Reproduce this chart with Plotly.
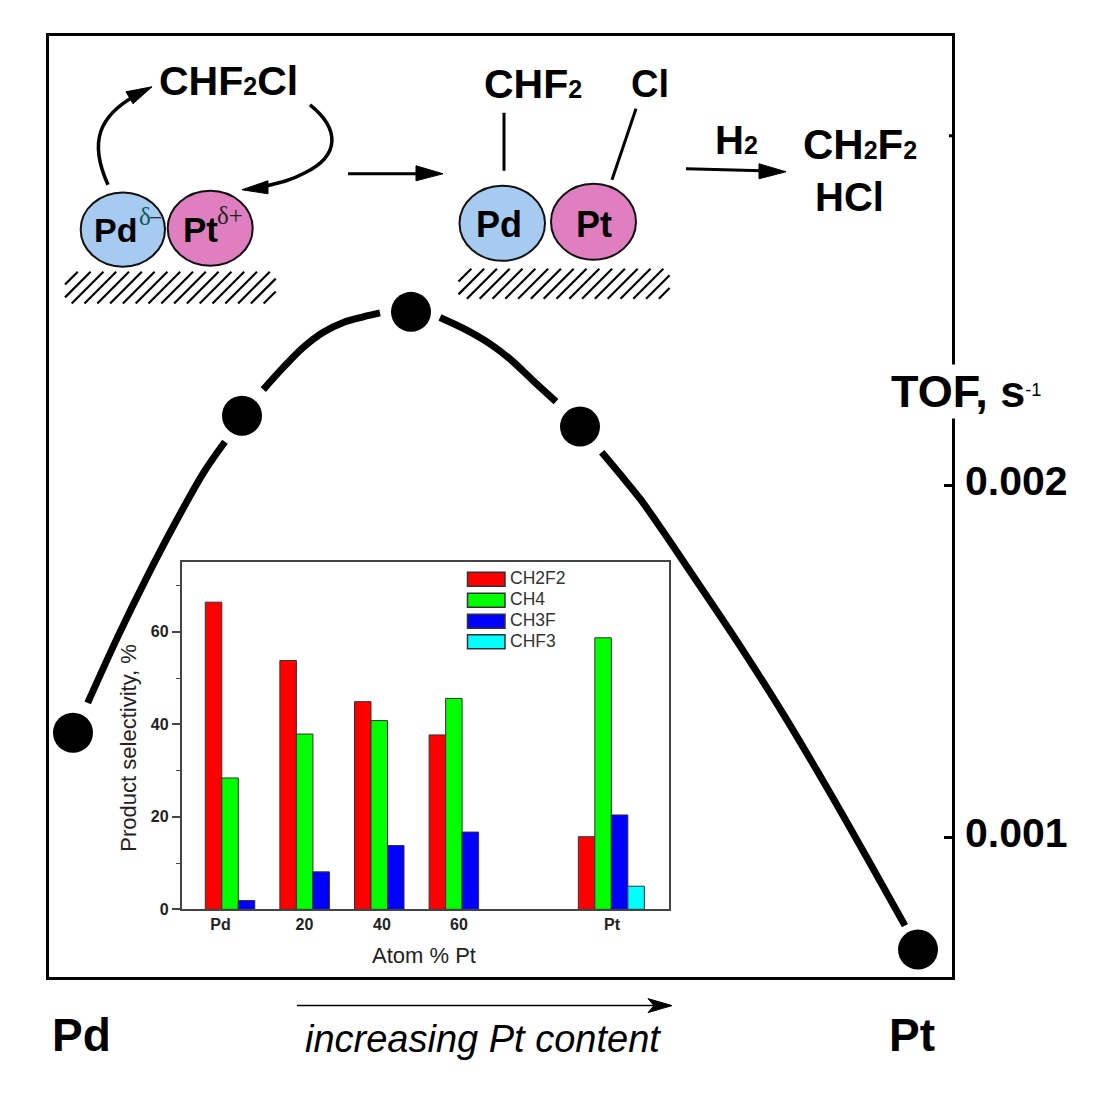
import plotly.graph_objects as go

# main curve: TOF against atom % Pt
atom_pct = [0, 20, 40, 60, 100]
tof_points = [0.001298, 0.002199, 0.002494, 0.002168, 0.000682]

seg1_x = [1.74, 5.36, 8.72, 11.87, 15.42, 17.99]
seg1_y = [1.383, 1.574, 1.739, 1.884, 2.036, 2.125]
seg2_x = [22.52, 24.89, 27.25, 29.62, 31.99, 34.36, 36.33]
seg2_y = [2.273, 2.336, 2.393, 2.436, 2.464, 2.480, 2.491]
seg3_x = [43.43, 46.59, 49.35, 51.72, 54.47, 57.16]
seg3_y = [2.478, 2.442, 2.403, 2.360, 2.298, 2.239]
seg4_x = [62.57, 64.73, 67.10, 69.86, 72.82, 78.93, 84.06, 89.20, 93.93, 98.46]
seg4_y = [2.095, 2.033, 1.963, 1.869, 1.764, 1.545, 1.351, 1.143, 0.944, 0.750]

tof_ticks = [0.001, 0.002]
tof_labels = ['0.001', '0.002']

# inset bars
inset_slots = [0, 1, 2, 3, 5]
inset_labels = ['Pd', '20', '40', '60', 'Pt']
ch2f2 = [66.4, 53.8, 44.9, 37.7, 15.7]
ch4 = [28.4, 37.9, 40.8, 45.6, 58.7]
ch3f = [1.9, 8.1, 13.8, 16.7, 20.4]
chf3 = [None, None, None, None, 5.0]
inset_names = ['CH2F2', 'CH4', 'CH3F', 'CHF3']
inset_colors = ['#FF0000', '#00FF00', '#0000FF', '#00FFFF']

FONT = 'Liberation Sans'
OFFSET = 8  # page body margin
W = 1087
H = 1072
# measured from the rendered page: paper height comes out a bit shorter than H
PLOT_TOP = 7.2
PLOT_H = 1063.2


def px(x):
    return (x - OFFSET) / W


def py(y):
    return 1 - (y - PLOT_TOP) / PLOT_H


def pt(x, y):
    return '{:.5f},{:.5f}'.format(px(x), py(y))


def path_shape(path, width=3, fill=None, color='black'):
    return dict(type='path', xref='paper', yref='paper', path=path,
                line=dict(color=color, width=width), fillcolor=fill)


def triangle(a, b, c):
    return path_shape('M{} L{} L{} Z'.format(pt(*a), pt(*b), pt(*c)), width=1, fill='black')


def straight(x0, y0, x1, y1, width=3):
    return path_shape('M{} L{}'.format(pt(x0, y0), pt(x1, y1)), width=width)


def ellipse(x0, y0, x1, y1, fill):
    return dict(type='circle', xref='paper', yref='paper', x0=px(x0), x1=px(x1), y0=py(y0), y1=py(y1),
                line=dict(color='#111111', width=2), fillcolor=fill)


def hatch(x0, y0, x1, y1, step=12.8):
    h = y1 - y0
    parts = []
    xb = x0 - h
    while xb < x1:
        # clip the 45 degree stroke to the box
        sx, sy = xb, y1
        ex, ey = xb + h, y0
        if sx < x0:
            sy -= x0 - sx
            sx = x0
        if ex > x1:
            ey += ex - x1
            ex = x1
        parts.append('M{} L{}'.format(pt(sx, sy), pt(ex, ey)))
        xb += step
    return path_shape(' '.join(parts), width=2.2)


def label(x, y, text, size=38, color='black', bold=True, italic=False, bg=None, angle=0, anchor='center',
          family=FONT):
    return dict(xref='paper', yref='paper', x=px(x), y=py(y), text=text, showarrow=False,
                xanchor=anchor, yanchor='middle', textangle=angle, bgcolor=bg,
                font=dict(family=family, size=size, color=color, weight=700 if bold else 400,
                          style='italic' if italic else 'normal'))


def small(n, size=25):
    return '<span style="font-size:{}px">{}</span>'.format(size, n)


fig = go.Figure()

for seg_x, seg_y in [(seg1_x, seg1_y), (seg2_x, seg2_y), (seg3_x, seg3_y), (seg4_x, seg4_y)]:
    fig.add_trace(go.Scatter(x=seg_x, y=[v / 1000 for v in seg_y], mode='lines', showlegend=False,
                             line=dict(color='black', width=7, shape='spline')))
fig.add_trace(go.Scatter(x=atom_pct, y=tof_points, mode='markers', showlegend=False,
                         marker=dict(color='black', size=40)))

for name, values, color in zip(inset_names, [ch2f2, ch4, ch3f, chf3], inset_colors):
    fig.add_trace(go.Bar(x=inset_slots, y=values, name=name, xaxis='x2', yaxis='y2', showlegend=False,
                         marker=dict(color=color, line=dict(color='#333333', width=1))))

shapes = [
    # catalyst spheres, left pair then right pair
    ellipse(80.7, 191.7, 165, 266, '#A6CAF0'),
    ellipse(167.7, 190, 252.7, 265, '#E07FBF'),
    ellipse(459.5, 185, 545, 260, '#A6CAF0'),
    ellipse(551, 183, 636, 259, '#E07FBF'),
    hatch(65, 271, 275.7, 302.7),
    hatch(458.5, 268, 669.6, 298),
    # cycle arrows
    path_shape('M{} C{} {} {}'.format(pt(108, 184), pt(88, 140), pt(100, 115), pt(135, 95)), width=3.5),
    triangle((152, 86), (126, 91), (133, 103)),
    path_shape('M{} C{} {} {} C{} {} {}'.format(pt(310, 104), pt(340, 128), pt(340, 155), pt(305, 172),
                                                pt(290, 180), pt(280, 182), pt(262, 186)), width=3.5),
    triangle((242, 189), (268, 180), (268, 193)),
    # reaction arrows
    straight(348, 173, 420, 173),
    triangle((443, 173), (416, 165), (416, 180)),
    straight(686, 168, 762, 170),
    triangle((786, 171), (759, 163), (759, 178)),
    # bonds
    straight(504, 112, 504, 170),
    straight(636, 108, 612, 179),
    # small tick cut short at the top of the TOF axis
    straight(949, 135, 953, 135),
    # arrow under the frame
    straight(297, 1005, 655, 1005, width=1.5),
    path_shape('M{} L{} L{} L{} Z'.format(pt(672, 1005), pt(648, 998), pt(654, 1005), pt(648, 1012)),
               width=1, fill='black'),
    # dash of the delta minus
    straight(150, 217, 161, 217, width=1),
]

# inset legend drawn by hand to get the wide swatches
legend_rows = [578.5, 599.5, 620.5, 641]
annotations = []
for row, name, color in zip(legend_rows, inset_names, inset_colors):
    shapes.append(dict(type='rect', xref='paper', yref='paper', x0=px(467.5), x1=px(505),
                       y0=py(row - 7), y1=py(row + 7), fillcolor=color,
                       line=dict(color='#333333', width=1.5)))
    annotations.append(label(508, row - 1, name, size=17.5, color='#333333', bold=False, anchor='left'))

annotations += [
    label(228, 80, 'CHF' + small(2) + 'Cl', size=41),
    label(533, 83, 'CHF' + small(2), size=41),
    label(650, 83, 'Cl', size=38),
    label(736, 139, 'H' + small(2), size=40),
    label(860, 144, 'CH' + small(2) + 'F' + small(2), size=42),
    label(849, 196, 'HCl', size=40),
    label(115, 229, 'Pd', size=34),
    label(200, 229, 'Pt', size=35),
    label(145, 216, 'δ', size=25, color='#0b5c5c', bold=False, family='Liberation Serif'),
    label(230, 215, 'δ+', size=25, color='#222222', bold=False, family='Liberation Serif'),
    label(499, 224, 'Pd', size=36),
    label(594, 224, 'Pt', size=36),
    label(966, 391, '<b>TOF, s</b>' + small('<sup>-1</sup>', 26), size=45, bold=False, bg='white'),
    label(81, 1034, 'Pd', size=46),
    label(912, 1034, 'Pt', size=46),
    label(483, 1038, 'increasing Pt content', size=38, bold=False, italic=True),
    label(129, 748, 'Product selectivity, %', size=22, color='#222222', bold=False, angle=-90),
    label(424, 955, 'Atom % Pt', size=22, color='#222222', bold=False),
]

fig.update_layout(
    width=W, height=H, margin=dict(l=0, r=0, t=0, b=0), autosize=False,
    paper_bgcolor='white', plot_bgcolor='white', showlegend=False,
    barmode='group', bargap=0.115, bargroupgap=0,
    shapes=shapes, annotations=annotations,
    xaxis=dict(domain=[px(48.8), px(951.8)], range=[-2.864, 104.0], showgrid=False, zeroline=False,
               showticklabels=False, ticks='', showline=True, mirror=True, linecolor='black', linewidth=3),
    yaxis=dict(domain=[py(976.2), py(35.5)], range=[0.0006045, 0.003277], side='right', showgrid=False,
               zeroline=False, tickmode='array', tickvals=tof_ticks, ticktext=tof_labels,
               ticks='inside', ticklen=8, tickwidth=3, tickcolor='black', showline=True, mirror=True,
               linecolor='black', linewidth=3, ticklabelstandoff=2, ticklabelshift=-5,
               tickfont=dict(family=FONT, size=41, color='black', weight=700)),
    xaxis2=dict(domain=[px(181.6), px(669)], range=[-0.76, 5.773], anchor='y2', showgrid=False, zeroline=False,
                tickmode='array', tickvals=[-0.239, 0.887, 1.926, 2.958, 5.009], ticktext=inset_labels,
                ticks='', showline=True, mirror=True, linecolor='#444444', linewidth=1.5,
                tickfont=dict(family=FONT, size=16, color='#222222', weight=700)),
    yaxis2=dict(domain=[py(908.7), py(561.7)], range=[0, 75], anchor='x2', showgrid=False, zeroline=False,
                tickmode='array', tickvals=[0, 20, 40, 60], ticks='outside', ticklen=8, tickwidth=1.5,
                tickcolor='#444444', showline=True, mirror=True, linecolor='#444444', linewidth=1.5,
                minor=dict(tickvals=[10, 30, 50, 70], ticks='outside', ticklen=4, tickwidth=1, tickcolor='#444444'),
                tickfont=dict(family=FONT, size=16, color='#222222', weight=700)),
)

fig.write_html("out.html")
